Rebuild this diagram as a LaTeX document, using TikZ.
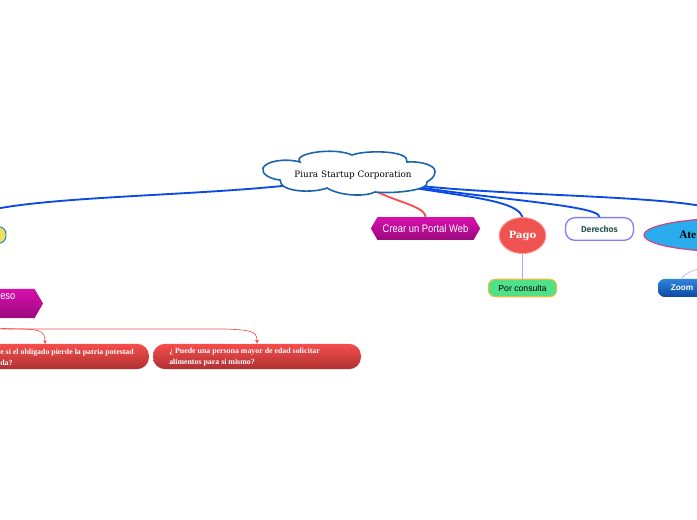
\documentclass[tikz,border=0pt]{standalone}
\usepackage{fontspec}
\usetikzlibrary{shapes.geometric,shapes.symbols,backgrounds,arrows.meta}
\newfontfamily\narrowfont[FakeStretch=0.86]{Liberation Sans}
\newfontfamily\titlefont{DejaVu Serif}
\newfontfamily\redfont{Liberation Serif}
\newfontfamily\plainfont{Liberation Sans}
\newfontfamily\boldfont{Fira Sans}
\definecolor{linkblue}{HTML}{0A4BE6}
\definecolor{linkred}{HTML}{F4514F}
\definecolor{cloudblue}{HTML}{1B65AE}
\definecolor{hexatop}{HTML}{D80FAE}
\definecolor{hexabottom}{HTML}{9C0A7E}
\definecolor{redtop}{HTML}{F64C4C}
\definecolor{redbottom}{HTML}{AE3232}
\definecolor{pagored}{HTML}{EF5350}
\definecolor{consultaline}{HTML}{E0C040}
\definecolor{consultafill}{HTML}{4FE08A}
\definecolor{derechostext}{HTML}{2F5D50}
\definecolor{atencionline}{HTML}{D0457F}
\definecolor{atencionfill}{HTML}{29ADEF}
\definecolor{zoomtop}{HTML}{2E86DE}
\definecolor{zoombottom}{HTML}{0D47A1}
\definecolor{izqfill}{HTML}{EEE05A}
\begin{document}
\begin{tikzpicture}[
  x = 0.75pt,
  y = -0.75pt,
  hexa/.style = {
    shape = signal,
    signal to = west and east,
    signal pointer angle = 120,
    top color = hexatop,
    bottom color = hexabottom,
    text = white,
    font = \narrowfont\fontsize{8.2pt}{10pt}\selectfont,
    inner sep = 0pt,
  },
  redbox/.style = {
    shape = rectangle,
    rounded corners = 9pt,
    top color = redtop,
    bottom color = redbottom,
    minimum height = 19pt,
    inner sep = 0pt,
  },
  redtext/.style = {
    align = left,
    anchor = west,
    text = white,
    font = \redfont\bfseries\fontsize{5.9pt}{8.2pt}\selectfont,
    inner sep = 0pt,
  },
  thicklink/.style = {
    draw = linkblue,
    line width = 1.4pt
  },
  thinlink/.style = {
    draw = linkred,
    line width = 0.5pt,
    -{Triangle[width = 2.5pt, length = 2.5pt]}
  }
]
  \useasboundingbox (0, 0) rectangle (697, 520);

  % cloud outline
  \draw[draw = cloudblue, fill = white, line width = 1.2pt] (263, 168)
    .. controls (266, 161) and (285, 158) .. (300, 162)
    .. controls (292, 153) and (335, 147) .. (352, 155)
    .. controls (365, 150) and (410, 150) .. (407, 162)
    .. controls (420, 161) and (436, 165) .. (435, 172)
    .. controls (435, 177) and (430, 180) .. (427, 182)
    .. controls (430, 190) and (395, 194) .. (375, 192)
    .. controls (365, 197) and (340, 196) .. (327, 188)
    .. controls (315, 193) and (280, 193) .. (280, 180)
    .. controls (270, 179) and (261, 174) .. (263, 168) -- cycle;
  \node[font = \titlefont\fontsize{6.6pt}{8pt}\selectfont] (piura) at (353, 175) {Piura Startup Corporation};

  \node[hexa, minimum width = 82pt, minimum height = 17pt] (portal) at (425.5, 228.5) {Crear un Portal Web};

  \node[shape = ellipse, draw = pink!80!red, fill = pagored, line width = 0.7pt, minimum width = 35pt, minimum height = 27pt, inner sep = 0pt, text = white, font = \titlefont\bfseries\fontsize{7.5pt}{9pt}\selectfont] (pago) at (522.5, 235.5) {Pago};
  \node[draw = consultaline, fill = consultafill, rounded corners = 5pt, line width = 0.9pt, minimum width = 51pt, minimum height = 13pt, inner sep = 0pt, font = \plainfont\fontsize{6.5pt}{8pt}\selectfont] (consulta) at (522.5, 288) {Por consulta};
  \node[draw = blue!50!white, fill = white, rounded corners = 7pt, line width = 1pt, minimum width = 51pt, minimum height = 17pt, inner sep = 0pt, text = derechostext, font = \boldfont\bfseries\fontsize{6.5pt}{8pt}\selectfont] (derechos) at (599.5, 229) {Derechos};

  \node[shape = ellipse, draw = atencionline, fill = atencionfill, line width = 0.9pt, minimum width = 129pt, minimum height = 25pt, inner sep = 0pt] (atencion) at (730, 235) {};
  \node[font = \redfont\bfseries\fontsize{8.5pt}{10pt}\selectfont, anchor = west, inner sep = 0pt] (atetext) at (679, 235) {Ate};
  \node[rounded corners = 5pt, top color = zoomtop, bottom color = zoombottom, minimum width = 36pt, minimum height = 13.5pt, inner sep = 0pt, text = white, font = \plainfont\bfseries\fontsize{6.2pt}{8pt}\selectfont] (zoom) at (682, 288) {Zoom};

  \node[draw = cyan!60!blue, fill = izqfill, line width = 0.7pt, rounded corners = 5.5pt, minimum width = 75pt, minimum height = 12.5pt, inner sep = 0pt] (izq) at (-44, 235) {};

  \node[hexa, minimum width = 90pt, minimum height = 22pt] (proceso) at (-17, 303.5) {};
  \node[text = white, font = \narrowfont\fontsize{8.2pt}{10pt}\selectfont, anchor = west, inner sep = 0pt] (procesotext) at (0, 297) {eso};

  \node[redbox, minimum width = 180pt] (obligado) at (29, 356.5) {};
  \node[redtext] (obligadotext) at (0, 357) {e si el obligado pierde la patria potestad\\da?};
  \node[redbox, minimum width = 156pt] (mayor) at (257, 356.5) {};
  \node[redtext] (mayortext) at (169, 357) {¿ Puede una persona mayor de edad solicitar\\alimentos para si mismo?};
  \coordinate (obligadotop) at (45, 344);

  \begin{pgfonlayer}{background}
    \draw[thicklink] (piura.center) .. controls (250, 201) and (-30, 190) .. (izq.north);
    \draw[thicklink] (piura.center) .. controls (430, 196) and (515, 195) .. (pago.north);
    \draw[thicklink] (piura.center) .. controls (450, 198) and (600, 203) .. (derechos.north);
    \draw[thicklink] (piura.center) .. controls (450, 201) and (720, 190) .. (atencion.north);
    \draw[draw = linkred, line width = 1.4pt] (piura.center) .. controls (375, 200) and (425, 203) .. (portal.north);
    \draw[draw = blue!35!white, line width = 0.9pt] (pago) -- (consulta);
    \draw[draw = blue!35!white, line width = 0.4pt] (atencion.south) .. controls (700, 272) and (685, 270) .. (zoom.north);
    \draw[thinlink] (proceso.south) .. controls (-17, 329) and (-10, 329) .. (15, 329) .. controls (38, 329) and (45, 330) .. (obligadotop);
    \draw[thinlink] (proceso.south) .. controls (-17, 329) and (-10, 329) .. (50, 329) -- (225, 329) .. controls (250, 330) and (257, 331) .. (mayor.north);
  \end{pgfonlayer}
\end{tikzpicture}
\end{document}
